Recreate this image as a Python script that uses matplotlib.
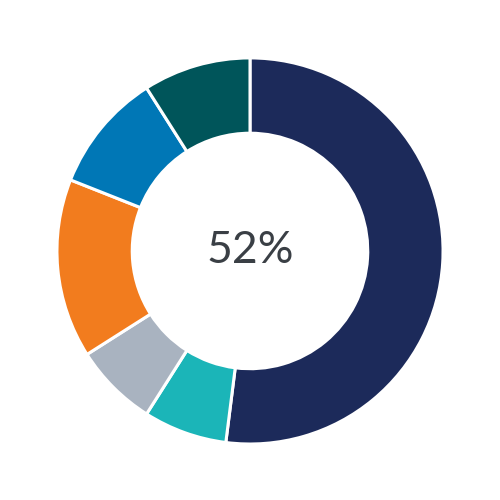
import matplotlib
matplotlib.use("Agg")
import matplotlib.pyplot as plt

labels = ["Navy", "Teal", "Grey", "Orange", "Blue", "Green"]
values = [52, 7, 7, 15, 10, 9]
colors = ["#1c2a5a", "#1bb5b8", "#a9b3c0", "#f27c1e", "#0077b6", "#00555a"]
center_label = "52%"

fig = plt.figure(figsize=(5, 5), dpi=100)
ax = fig.add_axes([0, 0, 1, 1])

ax.pie(values, colors=colors, startangle=90, counterclock=False,
       radius=1.0,
       wedgeprops=dict(width=0.39, edgecolor="white", linewidth=2.2))

ax.text(0, 0.0, center_label, ha="center", va="center",
        fontsize=32, color="#3a3f45", family=["Lato", "DejaVu Sans"])

ax.set_xlim(-1.295, 1.295)
ax.set_ylim(-1.29, 1.30)
ax.set_aspect("equal")
ax.axis("off")

fig.savefig("out.png", dpi=100, facecolor="white")
